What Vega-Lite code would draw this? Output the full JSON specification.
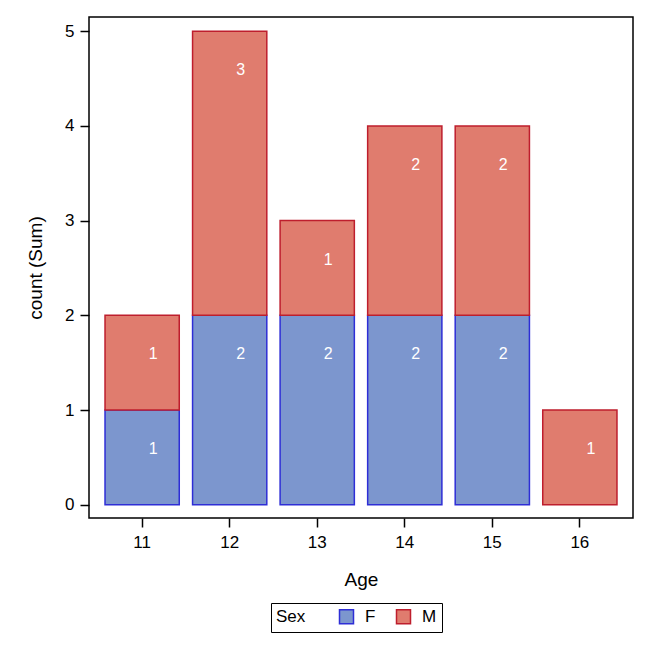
{
  "$schema": "https://vega.github.io/schema/vega-lite/v6.json",
  "autosize": {"type": "none"},
  "padding": {"left": 89, "top": 17, "right": 17, "bottom": 132},
  "width": 544,
  "height": 501,
  "background": "white",
  "data": {
    "values": [
      {"Age": "11", "Sex": "F", "count": 1},
      {"Age": "11", "Sex": "M", "count": 1},
      {"Age": "12", "Sex": "F", "count": 2},
      {"Age": "12", "Sex": "M", "count": 3},
      {"Age": "13", "Sex": "F", "count": 2},
      {"Age": "13", "Sex": "M", "count": 1},
      {"Age": "14", "Sex": "F", "count": 2},
      {"Age": "14", "Sex": "M", "count": 2},
      {"Age": "15", "Sex": "F", "count": 2},
      {"Age": "15", "Sex": "M", "count": 2},
      {"Age": "16", "Sex": "M", "count": 1}
    ]
  },
  "transform": [
    {"stack": "count", "groupby": ["Age"], "sort": [{"field": "Sex", "order": "ascending"}], "as": ["y0", "y1"]}
  ],
  "encoding": {
    "x": {
      "field": "Age", "type": "ordinal",
      "scale": {"paddingInner": 0.152, "paddingOuter": 0.183},
      "axis": {"labelAngle": 0, "title": "Age", "tickSize": 9, "labelPadding": 7, "titlePadding": 20}
    }
  },
  "layer": [
    {
      "mark": {"type": "bar", "strokeWidth": 1.5},
      "encoding": {
        "y": {
          "field": "y0", "type": "quantitative",
          "scale": {"domain": [-0.14, 5.15], "nice": false, "zero": false},
          "axis": {"title": "count (Sum)", "values": [0, 1, 2, 3, 4, 5], "format": "d", "tickSize": 9, "labelPadding": 6, "titleX": -48, "titleBaseline": "alphabetic"}
        },
        "y2": {"field": "y1"},
        "fill": {
          "field": "Sex", "type": "nominal",
          "scale": {"domain": ["F", "M"], "range": ["#7c96ce", "#e07c6e"]},
          "legend": {"title": "Sex", "orient": "none", "legendX": 182, "legendY": 586}
        },
        "stroke": {
          "field": "Sex", "type": "nominal",
          "scale": {"domain": ["F", "M"], "range": ["#2e2ed6", "#be1e2d"]},
          "legend": {"title": "Sex", "orient": "none", "legendX": 182, "legendY": 586}
        }
      }
    },
    {
      "mark": {"type": "text", "color": "white", "fontSize": 16, "font": "Liberation Sans", "dx": 11, "dy": 39, "baseline": "middle", "align": "center"},
      "encoding": {
        "y": {"field": "y1", "type": "quantitative"},
        "text": {"field": "count", "type": "quantitative"}
      }
    }
  ],
  "config": {
    "font": "Liberation Sans",
    "view": {"stroke": "black", "strokeWidth": 1.5},
    "axis": {
      "domain": false, "grid": false,
      "tickColor": "black", "tickWidth": 1.5,
      "labelFontSize": 17, "labelColor": "black",
      "titleFontSize": 19, "titleFontWeight": "normal", "titleColor": "black"
    },
    "legend": {
      "direction": "horizontal", "titleOrient": "left",
      "strokeColor": "black", "padding": 5,
      "symbolType": "square", "symbolSize": 196, "symbolStrokeWidth": 1.5,
      "labelFontSize": 17, "titleFontSize": 17, "titleFontWeight": "normal",
      "labelColor": "black", "titleColor": "black",
      "labelOffset": 10, "columnPadding": 17, "titlePadding": 32
    }
  }
}
